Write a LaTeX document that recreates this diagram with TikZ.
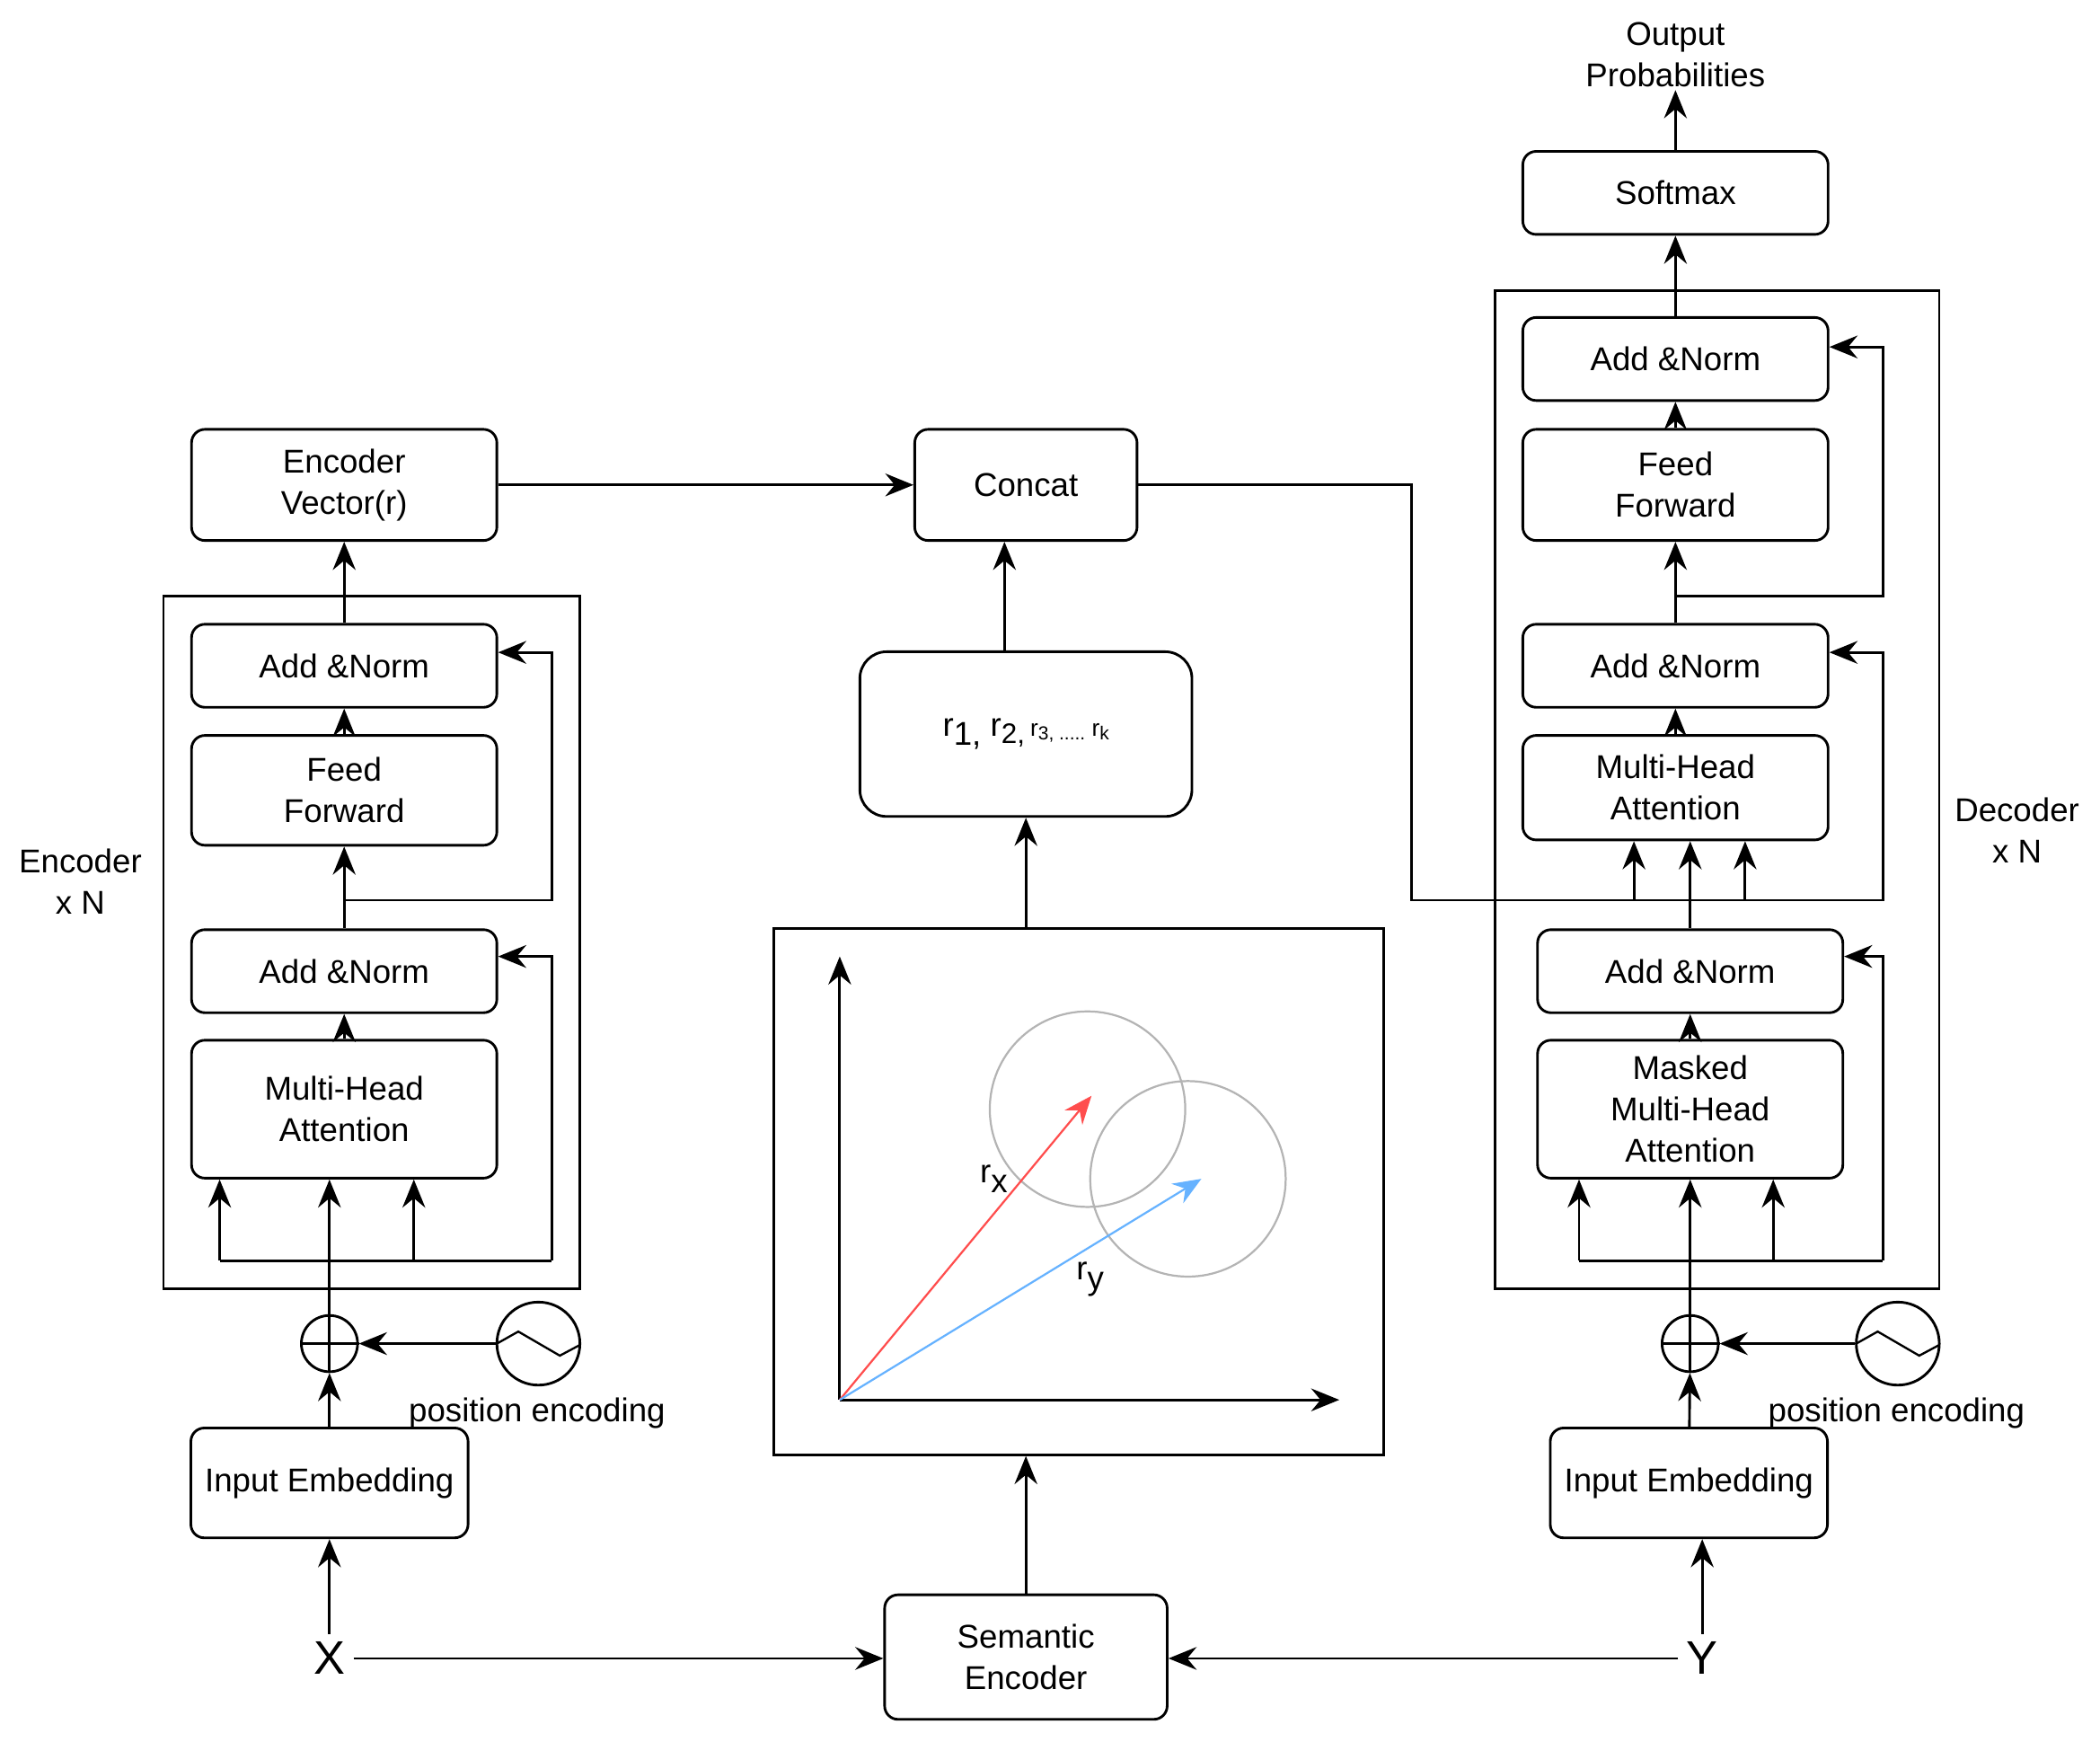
\documentclass[tikz,border=0pt]{standalone}
\usepackage{fontspec}
\setmainfont{Liberation Sans}
\usetikzlibrary{arrows.meta,positioning,calc}

\definecolor{rxred}{RGB}{255,77,77}
\definecolor{ryblue}{RGB}{102,178,255}
\definecolor{ballgray}{RGB}{180,180,180}

\newcommand{\boxfont}{\fontsize{14}{17.6}\selectfont}
\newcommand{\bigfont}{\fontsize{20}{24}\selectfont}

\tikzset{
	blk/.style={draw, rounded corners=2mm, line width=1.1pt, align=center, font=\boxfont, minimum width=4.56cm, minimum height=1.24cm, inner sep=1pt},
	frame/.style={draw, line width=1.1pt, minimum width=1cm, inner sep=0pt},
	arr/.style={-{Stealth[length=4.2mm,width=3.4mm,inset=1.4mm]}, line width=1.1pt},
	wire/.style={line width=1.1pt},
	plus/.style={draw, circle, line width=1.1pt, minimum size=0.84cm, inner sep=0pt},
	wave/.style={draw, circle, line width=1.1pt, minimum size=1.24cm, inner sep=0pt},
	lbl/.style={font=\boxfont, align=center, inner sep=1pt},
}

\begin{document}
\begin{tikzpicture}[x=0.02cm,y=-0.02cm]
	\useasboundingbox (0,0) rectangle (1568,1300);

	%encoder
	\node[frame, minimum width=6.22cm, minimum height=10.34cm] (encframe) at (277.5,703.5) {};
	\node[blk, minimum height=1.66cm] (encvec) at (257,362) {Encoder\\Vector(r)};
	\node[blk] (eadd2) at (257,497) {Add \&Norm}; %upper add norm
	\node[blk, minimum height=1.64cm] (eff) at (257,590) {Feed\\Forward};
	\node[blk] (eadd1) at (257,725) {Add \&Norm}; %lower add norm
	\node[blk, minimum height=2.06cm] (emha) at (257,828) {Multi-Head\\Attention};
	\node[plus] (eplus) at (246,1003) {};
	\node[wave] (ewave) at (402,1003) {};
	\node[lbl] (epos) at (401,1055) {position encoding};
	\node[blk, minimum width=4.14cm, minimum height=1.64cm] (eemb) at (246,1107) {Input Embedding};
	\node[font=\bigfont] (xin) at (246,1238) {X};
	\node[lbl] (enclbl) at (60,658) {Encoder\\x N};

	%middle
	\node[blk, minimum width=3.32cm, minimum height=1.66cm] (concat) at (766,362) {Concat};
	\node[blk, rounded corners=4mm, minimum width=4.96cm, minimum height=2.46cm] (rset) at (766,548) {r\raisebox{-0.5ex}{1,} r\raisebox{-0.4ex}{\fontsize{12}{14}\selectfont 2,}\,{\fontsize{10}{12}\selectfont r\raisebox{-0.3ex}{\fontsize{8}{10}\selectfont 3, .....} r\raisebox{-0.3ex}{\fontsize{8}{10}\selectfont k}}};
	\node[frame, minimum width=9.1cm, minimum height=7.86cm] (vspace) at (805.5,889.5) {};
	\node[blk, minimum width=4.22cm, minimum height=1.86cm] (sem) at (766,1237) {Semantic\\Encoder};

	%decoder
	\node[lbl] (outp) at (1251,41) {Output\\Probabilities};
	\node[blk] (smax) at (1251,144) {Softmax};
	\node[frame, minimum width=6.64cm, minimum height=14.9cm] (decframe) at (1282,589.5) {};
	\node[blk] (dadd3) at (1251,268) {Add \&Norm}; %top add norm
	\node[blk, minimum height=1.66cm] (dff) at (1251,362) {Feed\\Forward};
	\node[blk] (dadd2) at (1251,497) {Add \&Norm}; %middle add norm
	\node[blk, minimum height=1.56cm] (dmha) at (1251,588) {Multi-Head\\Attention};
	\node[blk] (dadd1) at (1262,725) {Add \&Norm}; %bottom add norm
	\node[blk, minimum height=2.06cm] (dmask) at (1262,828) {Masked\\Multi-Head\\Attention};
	\node[plus] (dplus) at (1262,1003) {};
	\node[wave] (dwave) at (1417,1003) {};
	\node[lbl] (dpos) at (1416,1055) {position encoding};
	\node[blk, minimum width=4.14cm, minimum height=1.64cm] (demb) at (1261,1107) {Input Embedding};
	\node[font=\bigfont] (yin) at (1271,1238) {Y};
	\node[lbl] (declbl) at (1506,620) {Decoder\\x N};

	%plus signs and waves
	\foreach \p in {eplus,dplus} \draw[wire] (\p.west) -- (\p.east);
	\foreach \w in {ewave,dwave} \draw[line width=0.9pt] ($(\w)+(-31,0)$) -- ($(\w)+(-15,-9)$) -- ($(\w)+(16,9)$) -- ($(\w)+(31,1)$);

	%encoder arrows
	\draw[arr] (xin) -- (eemb);
	\draw[arr] (eemb) -- (eplus);
	\draw[arr] (ewave) -- (eplus);
	\draw[arr] (eplus.south) -- (eplus |- emha.south);
	\draw[wire] (164,941) -- (412,941); %residual bottom
	\draw[arr] (164,941) -- (164,0 |- emha.south);
	\draw[arr] (309,941) -- (309,0 |- emha.south);
	\draw[arr] (412,941) |- ($(eadd1.east)+(0,-11)$);
	\draw[arr] (emha) -- (eadd1);
	\draw[arr] (eadd1) -- (eff);
	\draw[arr] (257,672) -- (412,672) |- ($(eadd2.east)+(0,-10)$);
	\draw[arr] (eff) -- (eadd2);
	\draw[arr] (eadd2) -- (encvec);
	\draw[arr] (encvec) -- (concat);

	%vector space
	\coordinate (org) at (627,1045);
	\draw[arr] (org) -- (627,714); %y axis
	\draw[arr] (org) -- (1000,1045); %x axis
	\draw[ballgray, line width=0.85pt] (812,828) circle (1.46cm);
	\draw[ballgray, line width=0.85pt] (887,880) circle (1.46cm);
	\draw[arr, rxred, line width=0.85pt] (org) -- (815,818); %r_x
	\draw[arr, ryblue, line width=0.85pt] (org) -- (897,880); %r_y
	\node[font=\boxfont] (rxl) at (742,880) {r\raisebox{-0.6ex}{x}};
	\node[font=\boxfont] (ryl) at (814,955) {r\raisebox{-0.6ex}{y}};

	%middle arrows
	\draw[arr] (xin.east) -- (xin.east -| sem.west);
	\draw[arr] (yin.west) -- (yin.west -| sem.east);
	\draw[arr] (sem) -- (sem |- vspace.south);
	\draw[arr] (rset |- vspace.north) -- (rset.south);
	\draw[arr] (750,0 |- rset.north) -- (750,0 |- concat.south);

	%decoder arrows
	\draw[arr] (yin) -- (yin |- demb.south);
	\draw[arr] (demb) -- (dplus);
	\draw[arr] (dwave) -- (dplus);
	\draw[arr] (dplus.south) -- (dplus |- dmask.south);
	\draw[wire] (1179,941) -- (1406,941); %residual bottom
	\draw[arr] (1179,941) -- (1179,0 |- dmask.south);
	\draw[arr] (1324,941) -- (1324,0 |- dmask.south);
	\draw[arr] (1406,941) |- ($(dadd1.east)+(0,-11)$);
	\draw[arr] (dmask) -- (dadd1);
	\draw[arr] (dadd1.north) -- (dadd1.north |- dmha.south);
	\draw[arr] (concat) -- (1054,362) |- (1406,672) |- ($(dadd2.east)+(0,-10)$); %cross attention
	\draw[arr] (1220,672) -- (1220,0 |- dmha.south);
	\draw[arr] (1303,672) -- (1303,0 |- dmha.south);
	\draw[arr] (dmha) -- (dadd2);
	\draw[arr] (dadd2) -- (dff);
	\draw[arr] (1251,445) -- (1406,445) |- ($(dadd3.east)+(0,-9)$);
	\draw[arr] (dff) -- (dadd3);
	\draw[arr] (dadd3) -- (smax);
	\draw[arr] (smax) -- (outp);
\end{tikzpicture}
\end{document}
